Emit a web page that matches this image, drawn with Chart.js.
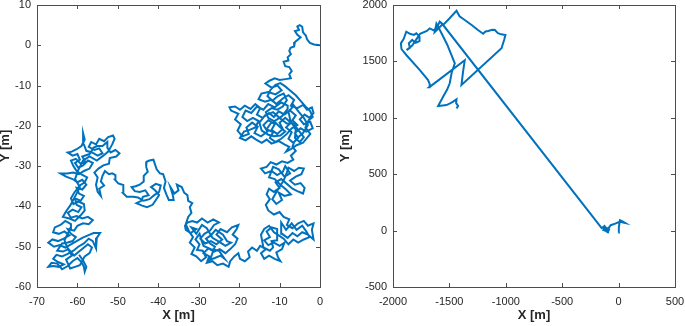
<!DOCTYPE html>
<html>
<head>
<meta charset="utf-8">
<script src="https://cdn.jsdelivr.net/npm/chart.js@4"></script>
<style>
  body { margin: 0; background: #fff; }
  .box { position: absolute; top: 0; height: 326px; }
  #left { left: 0; width: 340px; }
  #right { left: 340px; width: 345px; }
</style>
</head>
<body>
<div class="box" id="left"><canvas id="walk"></canvas></div>
<div class="box" id="right"><canvas id="levy"></canvas></div>
<script>
// left panel: random walk [x, y] in metres
const walkPath = [
  [0,0],[-1.5,0.2],[-2.5,0.6],[-3.2,1.5],[-3.5,2.4],[-4.2,3.2],[-4.4,4.6],[-5,5],[-5.6,4.7],[-5.2,3.8],[-6.2,3.5],[-5.6,2.6],[-4.8,2],[-5.5,1.4],[-6.2,0.8],[-6.4,-0.3],[-7.3,-0.6],[-7.6,-1.4],[-7.2,-2.2],[-8,-3],[-7.8,-3.8],[-9,-4.1],[-8.6,-5.2],[-7.6,-5.4],[-7,-6.4],[-7.6,-7.2],[-7.2,-8.2],[-8.5,-8.4],[-10,-8.6],[-11.2,-8.2],[-12.5,-8.8],
  [-13.5,-9.5],[-12,-10.5],[-10.5,-10],[-9.5,-11.2],[-11,-12.2],[-12.8,-11.6],[-14.5,-12],[-15.2,-13.4],[-13.6,-14],[-12,-13.5],[-10.8,-14.6],[-9.2,-13.2],[-7.8,-12.4],[-6.4,-13.6],[-7.2,-15],[-5.6,-15.6],[-4.2,-14.8],[-3.2,-16],[-2,-15.4],[-1.6,-16.8],[-2.6,-18],[-3.8,-17.2],[-5,-18.4],[-4,-19.6],[-2.4,-19],[-1.8,-20.6],[-3.4,-21.4],[-4.8,-20.6],[-6.2,-21.8],[-5.4,-23],[-6.6,-24.2],[-7.8,-23.2],[-7,-21.6],[-8.4,-20.4],[-7.2,-19.2],[-8.6,-18],[-10,-19.2],[-9.2,-20.8],[-10.6,-22],[-12,-21],[-11.2,-19.6],[-12.8,-18.6],[-14,-19.8],[-13,-21.4],[-14.6,-22.6],[-16.2,-21.8],[-15.4,-20.2],[-16.8,-19.2],[-18.2,-20.4],[-17.6,-22],[-19.2,-22.6],[-20.4,-21.2],[-19.6,-19.6],[-21,-18.4],[-20.2,-17],[-22,-16.2],[-22.4,-15.4],[-21,-15.2],[-19.8,-16],[-18.6,-15],[-17.2,-15.8],[-16,-14.6],[-14.8,-15.6],[-15.6,-17.2],[-14.2,-18],[-12.6,-16.8],[-11.4,-17.8],[-10.2,-16.4],[-8.8,-17.2],[-7.4,-16.2],[-6,-17.4],[-6.8,-18.6],[-5.6,-19.8],[-7,-20.6],[-8.2,-22],[-9.6,-23.2],[-11,-24],[-12.4,-23],[-11.6,-21.6],[-13.2,-20.8],[-12.2,-19.4],[-10.6,-18.4],[-9.4,-17.6],[-8,-15.8],
  [-8,-15],[-9.6,-14.2],[-11.2,-15.4],[-12.8,-14.6],[-14,-16],[-15.6,-15.2],[-17,-16.8],[-18.4,-16.2],[-19.2,-17.8],[-18,-18.8],[-16.6,-18],[-15.2,-18.8],[-16,-20.4],[-17.4,-21],[-18.8,-21.4],[-19.8,-23],[-18.4,-23.6],[-17,-22.6],[-15.8,-23.4],[-14.4,-24.2],[-13.2,-23.4],[-12,-24.4],[-10.2,-23.8],[-8.8,-24.6],[-7.6,-25.2],[-8.4,-26.4],[-7.2,-25.8],[-5.8,-24.8],[-4.2,-24.2],[-3.2,-23],[-2.4,-22],[-3.6,-20.4],[-2.8,-18.6],[-1.8,-17.8],[-2.4,-16.4],[-3.6,-15.2],[-4.8,-13.8],[-6,-12.4],[-7.4,-11.2],[-8.6,-10.2],[-9.8,-9.4],[-11,-9.8],[-12.2,-11],[-13,-12.6],[-11.8,-13.8],[-10.4,-12.6],[-9,-12],[-8.2,-13.6],[-9.2,-15.2],[-10.6,-16],[-12,-15.6],[-13.4,-16.6],[-12.8,-18],[-11.4,-18.8],[-10,-20.2],[-8.6,-21.4],[-9.8,-22.4],[-11.4,-22.6],[-12.8,-22.2],[-14.4,-21.2],[-15,-19.2],[-13.6,-17.4],[-11.6,-16.6],[-9.8,-18.2],[-8.2,-19.4],[-6.6,-19.4],[-5.4,-21],[-4,-22.8],[-5,-24],[-6.2,-23],[-6,-21],[-7.4,-18.4],[-7.8,-16.4],[-7,-15.6],
  [-6.6,-14.8],[-5.2,-16.6],[-4,-18],[-3,-19.8],[-4.2,-21.8],[-5.4,-22.8],[-6.4,-24],[-6.8,-25.2],[-6,-26.2],[-7.2,-27.4],[-6.6,-28.4],[-8,-29.2],
  [-9.4,-28.8],[-10.8,-29.6],[-12.2,-29],[-13.2,-30.2],[-14.6,-30.6],[-13.6,-31.8],[-12,-31.2],[-10.6,-32.2],[-9.2,-31.4],
  [-8.6,-30],[-7.4,-31.8],[-8.8,-32.6],[-10.2,-30.8],[-11.6,-30.2],[-12.6,-32.8],[-11.2,-33.2],[-9.8,-34.6],[-8.4,-35.8],[-7.2,-37],[-8.8,-37.4],[-10.2,-36.6],[-9.4,-38.4],[-10.8,-39.4],[-11.8,-38.2],[-10.4,-35.8],[-9,-33.6],[-8.2,-31.6],
  [-7.8,-30.4],[-6.4,-31.2],[-5.2,-30.4],[-4,-30.6],[-4.6,-32],[-6,-32.6],[-7.4,-33.6],[-6.2,-34.6],[-4.8,-34.2],[-3.8,-35.4],[-4.2,-36.8],[-5.6,-36.2],[-6.8,-35.6],[-8.2,-34.4],[-9.6,-33.2],[-11,-34],[-10,-35.4],[-11.4,-36.4],[-12.6,-35.6],[-13.2,-37],[-12.4,-38.2],[-13.4,-39.6],[-12.8,-41],
  [-11.4,-42],[-10,-41.4],[-9,-42.6],[-7.6,-43.2],[-8.2,-44.6],[-6.8,-45.4],[-5.4,-44.2],[-4,-43.6],[-3,-44.8],[-1.6,-44.2],[-2,-45.8],[-1.6,-48.2],[-3,-47],[-4.4,-46.4],[-5.6,-47.4],[-6.8,-46.6],[-8,-47.8],[-9.4,-46.8],
  [-9.6,-44],[-8.4,-45.8],[-7,-44.2],[-5.8,-45.8],[-4.4,-44.8],[-3.4,-46.2],[-2.6,-47.6],[-4,-48.2],[-5.4,-49],[-6.6,-48.2],[-7.8,-49.4],[-9,-48],[-10.2,-47.2],[-11.4,-46.4],[-12.6,-44.8],[-13.8,-45.6],[-14.6,-47],[-14,-50.2],[-12.4,-51],[-11.6,-50.2],[-12,-48.6],[-10.6,-48.4],
  [-10.6,-45.6],[-12,-45.2],[-13.2,-46.2],[-12.4,-47.6],[-13.8,-48.4],[-12.8,-49.6],[-11.4,-49],[-10,-49.8],[-8.8,-49],[-9.4,-50.6],[-10.8,-51.4],[-10.4,-52.6],[-9.8,-53.6],[-11.2,-53],[-12.6,-52.2],[-13.8,-53],[-14.6,-51.6],[-13.4,-50.6],[-14.8,-49.8],[-15.6,-51],[-16.8,-50.2],[-17.8,-51.2],[-17.4,-52.6],[-18.6,-53.6],[-19.8,-53],[-20.2,-51.6],[-21.2,-52.4],
  [-22.2,-53.6],[-22.6,-55],[-24,-54.2],[-25.4,-54.6],[-26.6,-53.6],[-28,-54],[-27.4,-52.4],[-28.8,-51.6],[-27.6,-50.4],[-26.2,-51.2],[-24.8,-50.6],[-23.4,-51.6],[-22.2,-50.6],[-21,-49.4],[-20.4,-48],[-21.6,-47],[-20.6,-45.6],[-20.2,-44.6],[-21.8,-45.2],[-23,-46.4],[-24.6,-45.6],[-25.6,-47],[-24.2,-48.2],[-25.6,-49.4],[-27,-48.6],[-28.4,-49.2],[-29.6,-48],[-28.6,-46.8],[-27.2,-46],[-26.2,-44.6],[-25,-44],[-26.4,-43.2],[-27.8,-44],[-29.2,-43],[-30.4,-44],[-31.6,-43.6],[-32.8,-44],[-33.4,-44.8],[-33.2,-45.8],[-32,-46.6],[-30.6,-45.6],
  [-31.8,-45.2],[-30.6,-46.8],[-29.2,-44.6],[-28,-45.4],[-26.6,-47.8],[-24.6,-49],[-23.4,-49.8],[-22,-49],[-23,-48.6],[-24,-47],[-25.8,-45.8],[-27,-47.2],[-28.2,-48],[-27.2,-49.2],[-26,-50],[-27.2,-53.2],[-26,-52.8],[-24.6,-52.2],[-23.6,-53],[-25,-51],[-27,-50.6],[-28.8,-49.8],[-29.4,-48.2],
  [-29.8,-46.8],[-30.8,-48.2],[-29.8,-49.4],[-30.4,-50.8],[-29,-51],[-28.2,-52.6],[-29.4,-53.6],[-30.6,-52.4],[-31.8,-51.8],[-31,-50.2],[-32.2,-49],[-31.4,-47.6],[-32.4,-46.2],[-33.2,-44.4],[-32.6,-42.6],[-31.8,-41.6],[-32.2,-40.2],[-31.6,-39.2],
  [-32.6,-38.6],[-32.8,-37.2],[-33.6,-36.6],[-34.2,-35.2],[-35.4,-34.6],[-35,-36],[-36,-36.8],[-37,-35.2],[-36.4,-37.2],[-36.2,-38.4],[-37.4,-38.4],[-38,-37],[-38.6,-35.4],[-38.2,-33.8],[-38.8,-32],[-39.6,-31.8],[-40.4,-30.8],[-41,-29],[-41.2,-28.4],[-42.2,-28.6],[-42.9,-28.9],[-43,-30.2],[-42.6,-31.4],[-43.6,-32.4],[-43.6,-33.8],[-44.6,-34.6],[-45.6,-35],[-46.6,-35.2],[-45.8,-36.2],[-44.6,-36.4],[-43.2,-36],[-42.4,-37.2],[-43.8,-37.6],[-44.2,-38.6],[-45.4,-39.2],[-44,-39.8],[-42.8,-40.2],[-41.4,-39.6],[-40.6,-38.4],[-39.8,-37.2],[-40.8,-36],[-41.8,-35.2],[-40.6,-34.4],[-39.4,-34.8],[-39.8,-36.4],[-41,-37.2],[-42.2,-38.2],[-43.6,-38.6],[-45,-37.8],[-46.2,-37.6],[-47.8,-37.6],[-48.7,-36.7],[-48.6,-35.6],[-48.7,-34.7],[-49.9,-34.3],[-50.7,-33.4],[-50.6,-32.2],[-51.4,-31.8],
  [-52.2,-32],[-53.2,-31.2],[-53.8,-32.4],[-54.2,-33.8],[-53.4,-34.8],[-54.6,-35.6],[-54.2,-37.4],[-55,-36.4],[-55.4,-34.6],[-55,-32.8],[-55.8,-31.6],[-54.8,-30.6],[-53.6,-29.8],[-52.2,-29.4],[-52,-28],[-50.4,-27.6],[-49.6,-26.8],[-50.6,-26],[-51.8,-26.6],[-52.6,-25.4],
  [-52.6,-24],[-53.8,-25],[-55,-25],[-56,-25.4],[-57,-27],[-58.8,-27.6],[-58,-29],[-59.2,-29.4],[-60.4,-28.2],[-61.6,-28.6],[-61,-30],[-60.2,-31.2],[-58.8,-32.2],[-57.6,-32.8],[-58.2,-34],[-59.4,-34.8],[-60.8,-36.6],[-61.6,-38],[-61,-39.4],[-59.8,-38.8],[-58.4,-39.4],[-58.2,-41],[-59.2,-42.2],[-60.6,-43.6],[-62,-43],[-63.6,-42.6],[-62.8,-41.2],[-61.8,-39.8],[-60.4,-37.2],[-59.4,-35.2],[-60.6,-33.2],[-59.8,-31],[-58.6,-28.6],[-57,-27.6],[-55.2,-28.6],[-53.6,-27.4],[-52.4,-26.4],
  [-51.4,-24.6],[-50.8,-23.2],[-51.2,-22.4],[-52.4,-22.8],[-53.4,-23.8],[-54.6,-23.2],[-55.4,-24.6],[-56.6,-24],[-57.2,-25.2],[-55.8,-26],[-54.6,-25.6],[-53.8,-26.8],[-55,-27.4],[-56.4,-26.6],[-57.8,-26.2],[-58.4,-24.6],[-58.6,-23.2],[-58.6,-21.8],[-58.2,-23.4],[-59,-25],[-60.2,-25.8],[-61.4,-26.4],[-62.4,-26.6],[-61.2,-27.4],[-60,-27],[-59.4,-28.4],[-60.6,-29.2],[-59.8,-30.4],[-58.6,-29.8],[-57.4,-28.6],[-56.2,-29.2],[-57,-30.6],[-58.4,-31.2],[-59.6,-32],[-61,-31.6],[-62.6,-31.8],[-64.2,-31.8],[-62.8,-32.6],[-61.2,-33.2],[-60,-34],[-58.8,-33.4],[-57.8,-34.6],[-58.8,-35.8],[-60.2,-35.4],[-59.6,-36.8],[-58.4,-37.4],[-59.2,-38.6],[-60.6,-38],[-60.2,-39.6],[-59,-40.2],[-59.8,-41.4],[-61.2,-40.8],[-62.4,-41.6],[-61.6,-42.8],[-60.2,-42.4],[-58.8,-43],[-57.4,-42.6],[-56.2,-43.4],[-57.2,-44.4],[-58.6,-44.2],[-60,-44.8],
  [-60.8,-46],[-62.4,-45.6],[-61.6,-46.8],[-60.4,-47.6],[-61.2,-48.6],[-62.6,-49],[-63.8,-49.2],[-65,-51],[-63.6,-51.2],[-62.2,-50.6],[-60.8,-52.2],[-59.6,-51.2],[-58.6,-50.4],[-57.4,-49.4],[-56.4,-50.2],[-57,-51.6],[-58.2,-52.4],[-59.4,-54.6],[-60.6,-55],[-61.8,-55.4],[-62.8,-53.2],[-61.4,-52.2],[-62.6,-50],[-63.2,-48.4],[-62.4,-46.8],[-61.8,-45.4],
  [-61.6,-44.4],[-63,-43.6],[-64.2,-44.6],[-65.6,-45.2],[-66,-46.4],[-64.6,-46.8],[-63.2,-46.2],[-62,-47.2],[-63.4,-48],[-64.8,-48.6],[-66.2,-48.2],[-67.2,-49],[-65.8,-50],[-64.4,-49.6],[-63,-50.2],[-61.6,-49.4],[-60.2,-48.6],[-58.8,-47.8],[-57.4,-47.2],[-56,-46.6],[-54.4,-46.6],[-55.2,-47.8],[-55.4,-50.4],[-56.2,-48.6],[-57.2,-48],[-58.4,-49.2],[-59.8,-50],[-61,-51],[-62.4,-51.8],[-63.8,-52.4],[-65.2,-52],[-66,-53],[-64.8,-53.8],[-63.4,-54.4],[-64.6,-55],[-66,-54.8],[-67.2,-55],[-66.4,-54],[-65,-54.2],[-63.8,-55.6],[-62.4,-54.8],[-61.2,-53.6],[-60,-52.8],[-59,-53.8],[-58.4,-55],[-58.2,-56.2],[-57.8,-55],[-58.6,-53.4],[-59.6,-52]
];

// right panel: Levy-type path [x, y] in metres
const levyPath = [
  [0,-20],[2,30],[12,92],[35,82],[58,68],[40,72],[12,80],[-30,62],[-70,48],[-90,20],[-110,-5],[-95,-15],[-85,10],[-120,30],[-135,5],[-100,-8],[-125,40],[-150,22],
  [-1556,1823],[-1500,1880],[-1437,1949],[-1410,1900],[-1364,1867],[-1300,1820],[-1250,1780],[-1201,1745],[-1180,1765],[-1157,1770],[-1120,1780],[-1097,1778],[-1070,1750],[-1040,1740],[-1003,1734],[-1015,1690],[-1038,1616],
  [-1393,1291],[-1380,1400],[-1364,1510],[-1680,1270],[-1675,1300],[-1689,1335],[-1760,1420],[-1882,1557],[-1910,1590],[-1925,1610],[-1930,1660],[-1905,1700],[-1882,1763],[-1850,1745],[-1815,1735],[-1793,1749],[-1765,1720],[-1765,1680],[-1800,1665],[-1830,1690],[-1860,1660],[-1850,1620],[-1880,1600],[-1830,1640],[-1790,1700],[-1760,1745],[-1700,1770],[-1675,1793],[-1640,1775],[-1610,1800],[-1586,1852],[-1560,1830],[-1600,1790],[-1630,1760],[-1615,1835],[-1580,1770],[-1520,1650],[-1452,1483],[-1480,1400],[-1497,1306],[-1520,1250],[-1556,1187],[-1600,1105],[-1560,1110],[-1526,1113],[-1490,1130],[-1467,1143],[-1437,1164],[-1440,1130],[-1423,1105],[-1437,1084]
];

const walkXTicks = { min: -70, max: 0, step: 10 };
const walkYTicks = { min: -60, max: 10, step: 10 };
const levyXTicks = { min: -2000, max: 500, step: 500 };
const levyYTicks = { min: -500, max: 2000, step: 500 };

const lineColor = "#0072BD";
const textColor = "#262626";

// matlab style box with inward ticks on all four sides
const boxPlugin = {
  id: "boxTicks",
  afterDraw(chart) {
    const { ctx, chartArea: a, scales } = chart;
    ctx.save();
    ctx.strokeStyle = "#4d4d4d";
    ctx.lineWidth = 1;
    ctx.beginPath();
    scales.x.ticks.forEach((t) => {
      const px = Math.round(scales.x.getPixelForValue(t.value)) + 0.5;
      ctx.moveTo(px, a.bottom); ctx.lineTo(px, a.bottom - 4);
      ctx.moveTo(px, a.top); ctx.lineTo(px, a.top + 4);
    });
    scales.y.ticks.forEach((t) => {
      const py = Math.round(scales.y.getPixelForValue(t.value)) + 0.5;
      ctx.moveTo(a.left, py); ctx.lineTo(a.left + 4, py);
      ctx.moveTo(a.right, py); ctx.lineTo(a.right - 4, py);
    });
    ctx.stroke();
    ctx.strokeRect(Math.round(a.left) + 0.5, Math.round(a.top) + 0.5,
      Math.round(a.right - a.left), Math.round(a.bottom - a.top));
    ctx.restore();
  },
};

function makeChart(id, path, xt, yt, yWidth, rightPad) {
  const font = { family: "Liberation Sans", size: 11 };
  const titleFont = { family: "Liberation Sans", size: 13, weight: "bold" };
  const plain = (v) => String(v);
  return new Chart(document.getElementById(id), {
    type: "scatter",
    data: {
      datasets: [{
        data: path.map((p) => ({ x: p[0], y: p[1] })),
        showLine: true,
        borderColor: lineColor,
        borderWidth: 2,
        pointRadius: 0,
        tension: 0,
      }],
    },
    options: {
      responsive: true,
      maintainAspectRatio: false,
      animation: false,
      layout: { padding: { left: 0, right: rightPad, top: 5, bottom: 0 } },
      plugins: { legend: { display: false }, tooltip: { enabled: false } },
      scales: {
        x: {
          type: "linear",
          min: xt.min, max: xt.max,
          grid: { display: false, drawTicks: false },
          border: { display: false },
          ticks: { stepSize: xt.step, padding: 8, color: textColor, font: font, maxRotation: 0, callback: plain },
          title: { display: true, text: "X [m]", color: textColor, font: titleFont, padding: { top: 0, bottom: 3 } },
          afterFit: (s) => { s.height = 39; s.paddingLeft = 0; s.paddingRight = 0; },
        },
        y: {
          type: "linear",
          min: yt.min, max: yt.max,
          grid: { display: false, drawTicks: false },
          border: { display: false },
          ticks: { stepSize: yt.step, padding: 6, color: textColor, font: font, callback: plain },
          title: { display: true, text: "Y [m]", color: textColor, font: titleFont, padding: { top: -2, bottom: 0 } },
          afterFit: (s) => { s.width = yWidth; s.paddingTop = 0; s.paddingBottom = 0; },
        },
      },
    },
    plugins: [boxPlugin],
  });
}

makeChart("walk", walkPath, walkXTicks, walkYTicks, 37, 20);
makeChart("levy", levyPath, levyXTicks, levyYTicks, 53, 10);
</script>
</body>
</html>
